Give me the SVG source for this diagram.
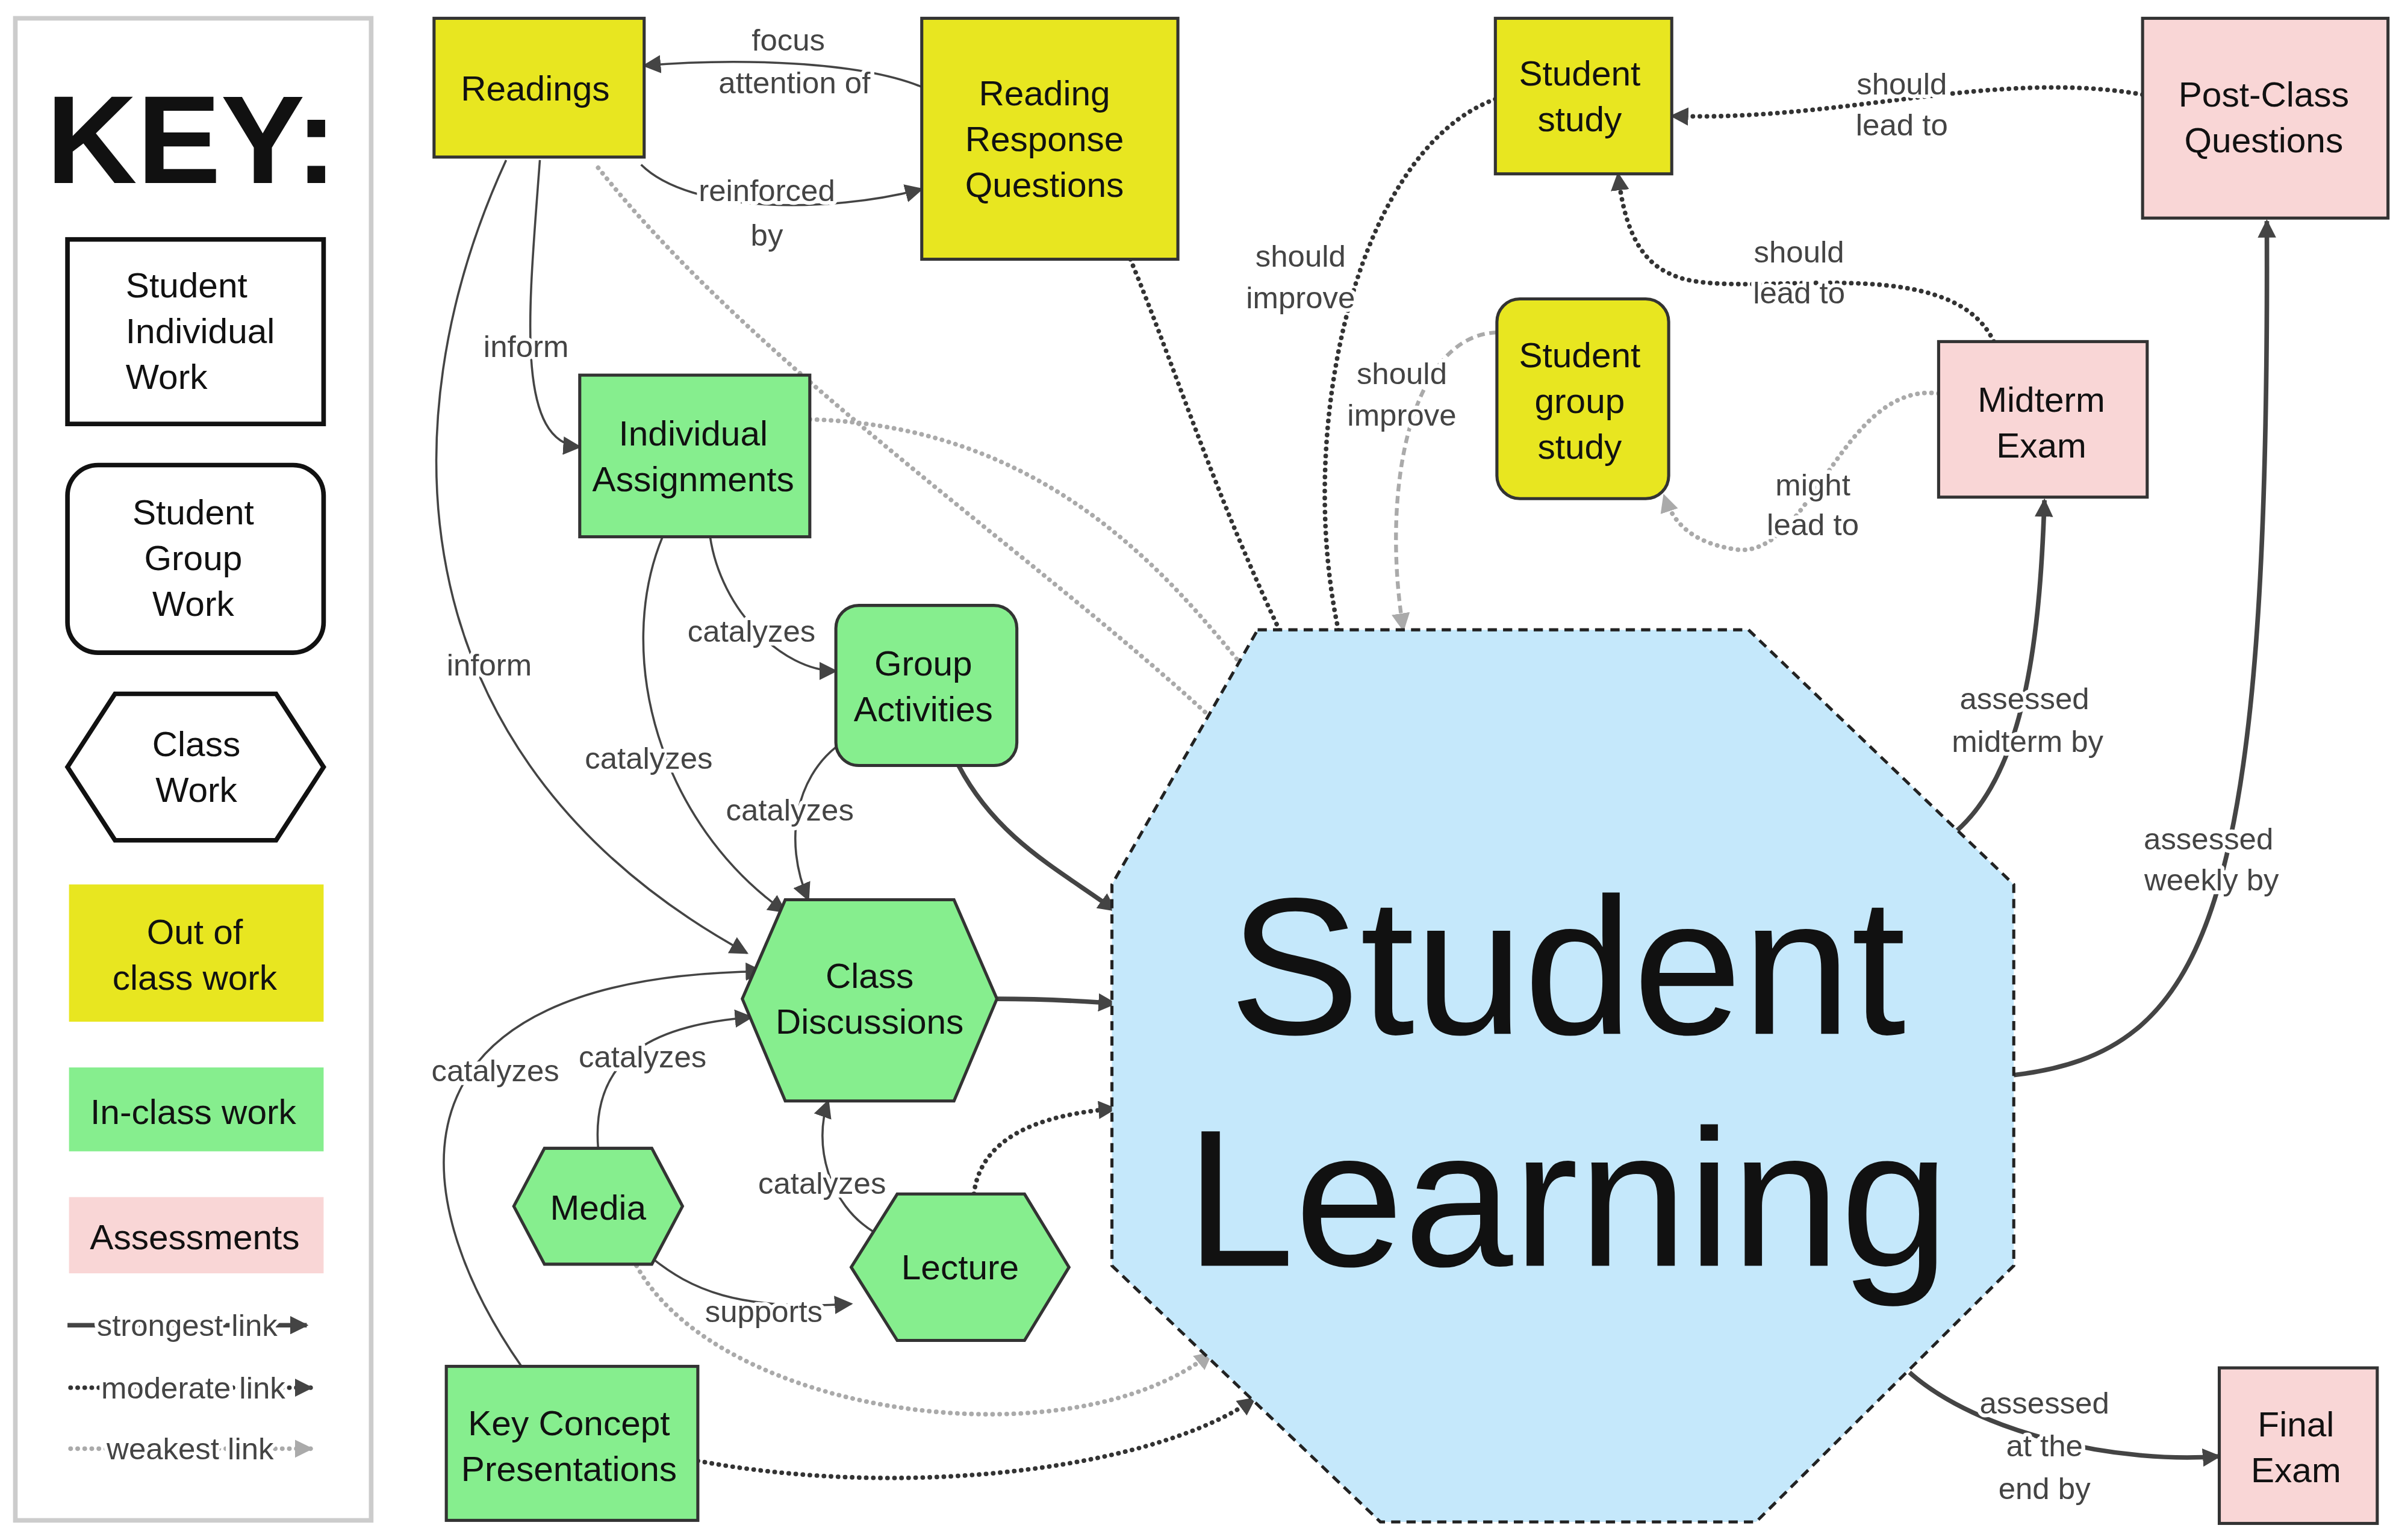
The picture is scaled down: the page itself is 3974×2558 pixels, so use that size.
<svg xmlns="http://www.w3.org/2000/svg" width="3974" height="2558" viewBox="0 0 3974 2558">
<style>
text{font-family:"Liberation Sans Narrow","Liberation Sans",Arial,sans-serif;text-anchor:middle;fill:#111}
.n{font-size:23px}
.l{font-size:20px;fill:#444;stroke:#fff;stroke-width:5px;paint-order:stroke;stroke-linejoin:round}
.y{fill:#e8e620;stroke:#333;stroke-width:2}
.g{fill:#86ee8e;stroke:#333;stroke-width:2}
.p{fill:#f9d6d6;stroke:#333;stroke-width:2}
.c path{fill:none}
.s{stroke:#444;stroke-width:3}
.t{stroke:#444;stroke-width:1.4}
.m{stroke:#333;stroke-width:3;stroke-dasharray:0.1 4.5;stroke-linecap:round}
.w{stroke:#aaa;stroke-width:3;stroke-dasharray:0.1 4.5;stroke-linecap:round}
.d{stroke:#aaa;stroke-width:2.5;stroke-dasharray:5 3}
</style>
<defs>
<marker id="a" viewBox="0 0 10 10" refX="9" refY="5" markerWidth="12" markerHeight="12" markerUnits="userSpaceOnUse" orient="auto"><path d="M0,0L10,5L0,10z" fill="#444"/></marker>
<marker id="ag" viewBox="0 0 10 10" refX="9" refY="5" markerWidth="12" markerHeight="12" markerUnits="userSpaceOnUse" orient="auto"><path d="M0,0L10,5L0,10z" fill="#aaa"/></marker>
</defs>
<rect width="3974" height="2558" fill="#fff"/>
<g transform="scale(2.547 2.533)">
<g id="key">
<rect x="10" y="12" width="232" height="985" fill="#fff" stroke="#ccc" stroke-width="3"/>
<text x="125" y="120" style="font-size:82px;font-weight:bold;font-family:'Liberation Sans Narrow','Liberation Sans',sans-serif">KEY:</text>
<rect x="44" y="157" width="167" height="121" fill="#fff" stroke="#111" stroke-width="3"/>
<text class="n" x="82" y="195" style="text-anchor:start">Student</text><text class="n" x="82" y="225" style="text-anchor:start">Individual</text><text class="n" x="82" y="255" style="text-anchor:start">Work</text>
<rect x="44" y="305" width="167" height="123" rx="20" fill="#fff" stroke="#111" stroke-width="3"/>
<text class="n" x="126" y="344">Student</text><text class="n" x="126" y="374">Group</text><text class="n" x="126" y="404">Work</text>
<polygon points="44,503 75,455 180,455 211,503 180,551 75,551" fill="#fff" stroke="#111" stroke-width="3"/>
<text class="n" x="128" y="496">Class</text><text class="n" x="128" y="526">Work</text>
<rect x="45" y="580" width="166" height="90" fill="#e8e620"/>
<text class="n" x="127" y="619">Out of</text><text class="n" x="127" y="649">class work</text>
<rect x="45" y="700" width="166" height="55" fill="#86ee8e"/>
<text class="n" x="126" y="737">In-class work</text>
<rect x="45" y="785" width="166" height="50" fill="#f9d6d6"/>
<text class="n" x="127" y="819">Assessments</text>
<path d="M44,869H200" class="s" marker-end="url(#a)"/>
<text class="l" x="122" y="876">strongest link</text>
<path d="M46,910H203" class="m" fill="none" marker-end="url(#a)"/>
<text class="l" x="126" y="917">moderate link</text>
<path d="M46,950H203" class="w" fill="none" marker-end="url(#ag)"/>
<text class="l" x="124" y="957">weakest link</text>
</g>
<g id="connectors" class="c">
<path class="t" d="M601,57C560,40 480,38 420,43" marker-end="url(#a)"/>
<path class="t" d="M418,108C450,140 540,140 601,124" marker-end="url(#a)"/>
<path class="t" d="M352,105C345,200 335,290 378,293" marker-end="url(#a)"/>
<path class="t" d="M330,105C250,280 260,500 487,625" marker-end="url(#a)"/>
<path class="w" d="M390,110C500,250 700,380 815,495" marker-end="url(#ag)"/>
<path class="w" d="M528,275C700,280 780,400 838,472" marker-end="url(#ag)"/>
<path class="m" d="M737,170C770,250 800,350 855,455" marker-end="url(#a)"/>
<path class="m" d="M975,65C880,100 840,300 878,435" marker-end="url(#a)"/>
<path class="d" d="M976,218C920,220 900,320 915,413" marker-end="url(#ag)"/>
<path class="m" d="M1397,62C1300,45 1200,80 1090,76" marker-end="url(#a)"/>
<path class="m" d="M1300,224C1270,160 1130,200 1090,180C1065,170 1058,140 1055,114" marker-end="url(#a)"/>
<path class="w" d="M1264,258C1200,250 1180,370 1130,360C1100,355 1090,340 1085,325" marker-end="url(#ag)"/>
<path class="s" d="M1272,548C1320,510 1330,420 1333,328" marker-end="url(#a)"/>
<path class="s" d="M1313,705C1440,690 1480,600 1478,145" marker-end="url(#a)"/>
<path class="s" d="M1245,900C1290,940 1380,960 1447,955" marker-end="url(#a)"/>
<path class="t" d="M432,352C400,430 430,540 512,598" marker-end="url(#a)"/>
<path class="t" d="M463,352C470,400 510,440 545,440" marker-end="url(#a)"/>
<path class="t" d="M545,490C520,510 510,550 527,590" marker-end="url(#a)"/>
<path class="s" d="M625,502C650,550 690,570 727,597" marker-end="url(#a)"/>
<path class="s" d="M650,655C690,655 710,657 727,658" marker-end="url(#a)"/>
<path class="m" d="M635,783C640,740 690,730 727,727" marker-end="url(#a)"/>
<path class="t" d="M570,808C540,790 530,750 540,722" marker-end="url(#a)"/>
<path class="t" d="M390,753C385,690 430,672 490,667" marker-end="url(#a)"/>
<path class="t" d="M340,896C260,780 250,640 497,637" marker-end="url(#a)"/>
<path class="t" d="M425,825C450,845 480,860 555,855" marker-end="url(#a)"/>
<path class="w" d="M415,830C470,930 700,960 790,887" marker-end="url(#ag)"/>
<path class="m" d="M455,958C600,985 760,960 818,917" marker-end="url(#a)"/>
<text class="l" x="514" y="33">focus</text><text class="l" x="518" y="61">attention of</text>
<text class="l" x="500" y="132">reinforced</text><text class="l" x="500" y="161">by</text>
<text class="l" x="343" y="234">inform</text>
<text class="l" x="319" y="443">inform</text>
<text class="l" x="848" y="175">should</text><text class="l" x="848" y="202">improve</text>
<text class="l" x="914" y="252">should</text><text class="l" x="914" y="279">improve</text>
<text class="l" x="1240" y="62">should</text><text class="l" x="1240" y="89">lead to</text>
<text class="l" x="1173" y="172">should</text><text class="l" x="1173" y="199">lead to</text>
<text class="l" x="1182" y="325">might</text><text class="l" x="1182" y="351">lead to</text>
<text class="l" x="1320" y="465">assessed</text><text class="l" x="1322" y="493">midterm by</text>
<text class="l" x="1440" y="557">assessed</text><text class="l" x="1442" y="584">weekly by</text>
<text class="l" x="1333" y="927">assessed</text><text class="l" x="1333" y="955">at the</text><text class="l" x="1333" y="983">end by</text>
<text class="l" x="423" y="504">catalyzes</text>
<text class="l" x="490" y="421">catalyzes</text>
<text class="l" x="515" y="538">catalyzes</text>
<text class="l" x="536" y="783">catalyzes</text>
<text class="l" x="419" y="700">catalyzes</text>
<text class="l" x="323" y="709">catalyzes</text>
<text class="l" x="498" y="867">supports</text>
</g>
<g id="student-learning">
<polygon points="820,413 1140,413 1313,580 1313,830 1145,998 900,998 725,830 725,580" fill="#c5e8fb" stroke="#222" stroke-width="2" stroke-dasharray="6 4"/>
<text x="1022" y="678" style="font-size:128px;font-family:'Liberation Sans',Arial,sans-serif">Student</text>
<text x="1022" y="830" style="font-size:128px;font-family:'Liberation Sans',Arial,sans-serif">Learning</text>
</g>
<g id="readings"><rect class="y" x="283" y="12" width="137" height="91"/><text class="n" x="349" y="66">Readings</text></g>
<g id="rrq"><rect class="y" x="601" y="12" width="167" height="158"/><text class="n" x="681" y="69">Reading</text><text class="n" x="681" y="99">Response</text><text class="n" x="681" y="129">Questions</text></g>
<g id="student-study"><rect class="y" x="975" y="12" width="115" height="102"/><text class="n" x="1030" y="56">Student</text><text class="n" x="1030" y="86">study</text></g>
<g id="post-class"><rect class="p" x="1397" y="12" width="160" height="131"/><text class="n" x="1476" y="70">Post-Class</text><text class="n" x="1476" y="100">Questions</text></g>
<g id="group-study"><rect class="y" x="976" y="196" width="112" height="131" rx="15"/><text class="n" x="1030" y="241">Student</text><text class="n" x="1030" y="271">group</text><text class="n" x="1030" y="301">study</text></g>
<g id="midterm"><rect class="p" x="1264" y="224" width="136" height="102"/><text class="n" x="1331" y="270">Midterm</text><text class="n" x="1331" y="300">Exam</text></g>
<g id="individual"><rect class="g" x="378" y="246" width="150" height="106"/><text class="n" x="452" y="292">Individual</text><text class="n" x="452" y="322">Assignments</text></g>
<g id="group-activities"><rect class="g" x="545" y="397" width="118" height="105" rx="15"/><text class="n" x="602" y="443">Group</text><text class="n" x="602" y="473">Activities</text></g>
<g id="class-discussions"><polygon class="g" points="484,655 512,590 622,590 650,655 622,722 512,722"/><text class="n" x="567" y="648">Class</text><text class="n" x="567" y="678">Discussions</text></g>
<g id="media"><polygon class="g" points="335,791 355,753 425,753 445,791 425,829 355,829"/><text class="n" x="390" y="800">Media</text></g>
<g id="lecture"><polygon class="g" points="555,831 585,783 668,783 697,831 668,879 585,879"/><text class="n" x="626" y="839">Lecture</text></g>
<g id="kcp"><rect class="g" x="291" y="896" width="164" height="101"/><text class="n" x="371" y="941">Key Concept</text><text class="n" x="371" y="971">Presentations</text></g>
<g id="final"><rect class="p" x="1447" y="897" width="103" height="102"/><text class="n" x="1497" y="942">Final</text><text class="n" x="1497" y="972">Exam</text></g>
</g>
</svg>
